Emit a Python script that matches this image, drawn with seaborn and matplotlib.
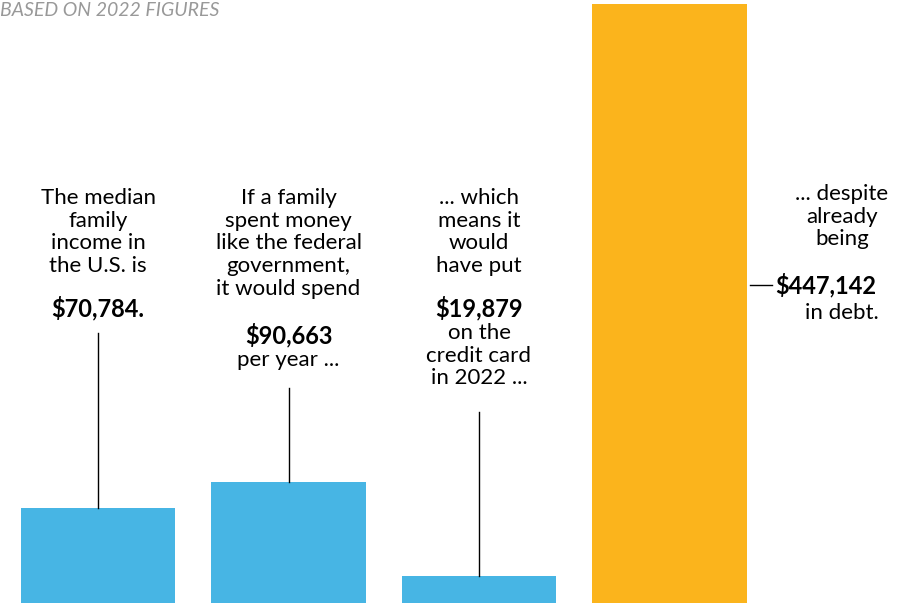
import matplotlib
matplotlib.use("Agg")
import matplotlib.pyplot as plt
import seaborn as sns
import pandas as pd

# data
categories = ["income", "spending", "deficit", "debt"]
values = [70784, 90663, 19879, 447142]
bar_colors = ["#47b5e4", "#47b5e4", "#47b5e4", "#fbb41c"]
labels_top = [
    "The median\nfamily\nincome in\nthe U.S. is",
    "If a family\nspent money\nlike the federal\ngovernment,\nit would spend",
    "... which\nmeans it\nwould\nhave put",
    "... despite\nalready\nbeing",
]
labels_value = ["$70,784.", "$90,663", "$19,879", "$447,142"]
labels_after = ["", "per year ...", "on the\ncredit card\nin 2022 ...", "in debt."]

df = pd.DataFrame({"cat": categories, "val": values})

plt.rcParams["font.family"] = "Lato"
fig = plt.figure(figsize=(9.10, 6.08), dpi=100)
ax = fig.add_axes([0, 5 / 608, 1, 599 / 608])
sns.barplot(data=df, x="cat", y="val", hue="cat", palette=bar_colors,
            width=0.81, legend=False, ax=ax, saturation=1)
ax.set_xlim(-98 / 190.5, (910 - 98) / 190.5)
ax.set_ylim(0, 447142)
ax.axis("off")

fs = 16
lh = 27 / 599 * 447142  # line height in data units
px = 447142 / 599

def y_of(pix):
    return (603 - pix) * px

# annotations for the three blue bars
tops = [188, 188, 188]
for i in range(3):
    x = i
    n_top = labels_top[i].count("\n") + 1
    y0 = y_of(tops[i])
    ax.text(x, y0, labels_top[i], ha="center", va="top", fontsize=fs,
            linespacing=1.17, color="black")
    yv = y0 - n_top * lh
    ax.text(x, yv, labels_value[i], ha="center", va="top", fontsize=fs + 1,
            fontweight="bold", color="black")
    if labels_after[i]:
        ax.text(x, yv - lh, labels_after[i], ha="center", va="top", fontsize=fs,
                linespacing=1.17, color="black")

# leader lines
line_tops = [333, 388, 412]
for i in range(3):
    ax.plot([i, i], [values[i], y_of(line_tops[i])], color="black", lw=1)

# debt bar label
xc = (842 - 98) / 190.5
ax.text(xc, y_of(184), labels_top[3], ha="center", va="top", fontsize=fs,
        linespacing=1.17)
ax.text((775 - 98) / 190.5, y_of(285), labels_value[3], ha="left", va="center",
        fontsize=fs + 1, fontweight="bold")
ax.text(xc, y_of(303), labels_after[3], ha="center", va="top", fontsize=fs)
ax.plot([(750 - 98) / 190.5, (772 - 98) / 190.5], [y_of(285)] * 2, color="black", lw=1)

fig.text(0.0, 1 - 2 / 608, "BASED ON 2022 FIGURES", ha="left", va="top",
         fontsize=14, style="italic", color="#999999")

fig.savefig("out.png", dpi=100)
